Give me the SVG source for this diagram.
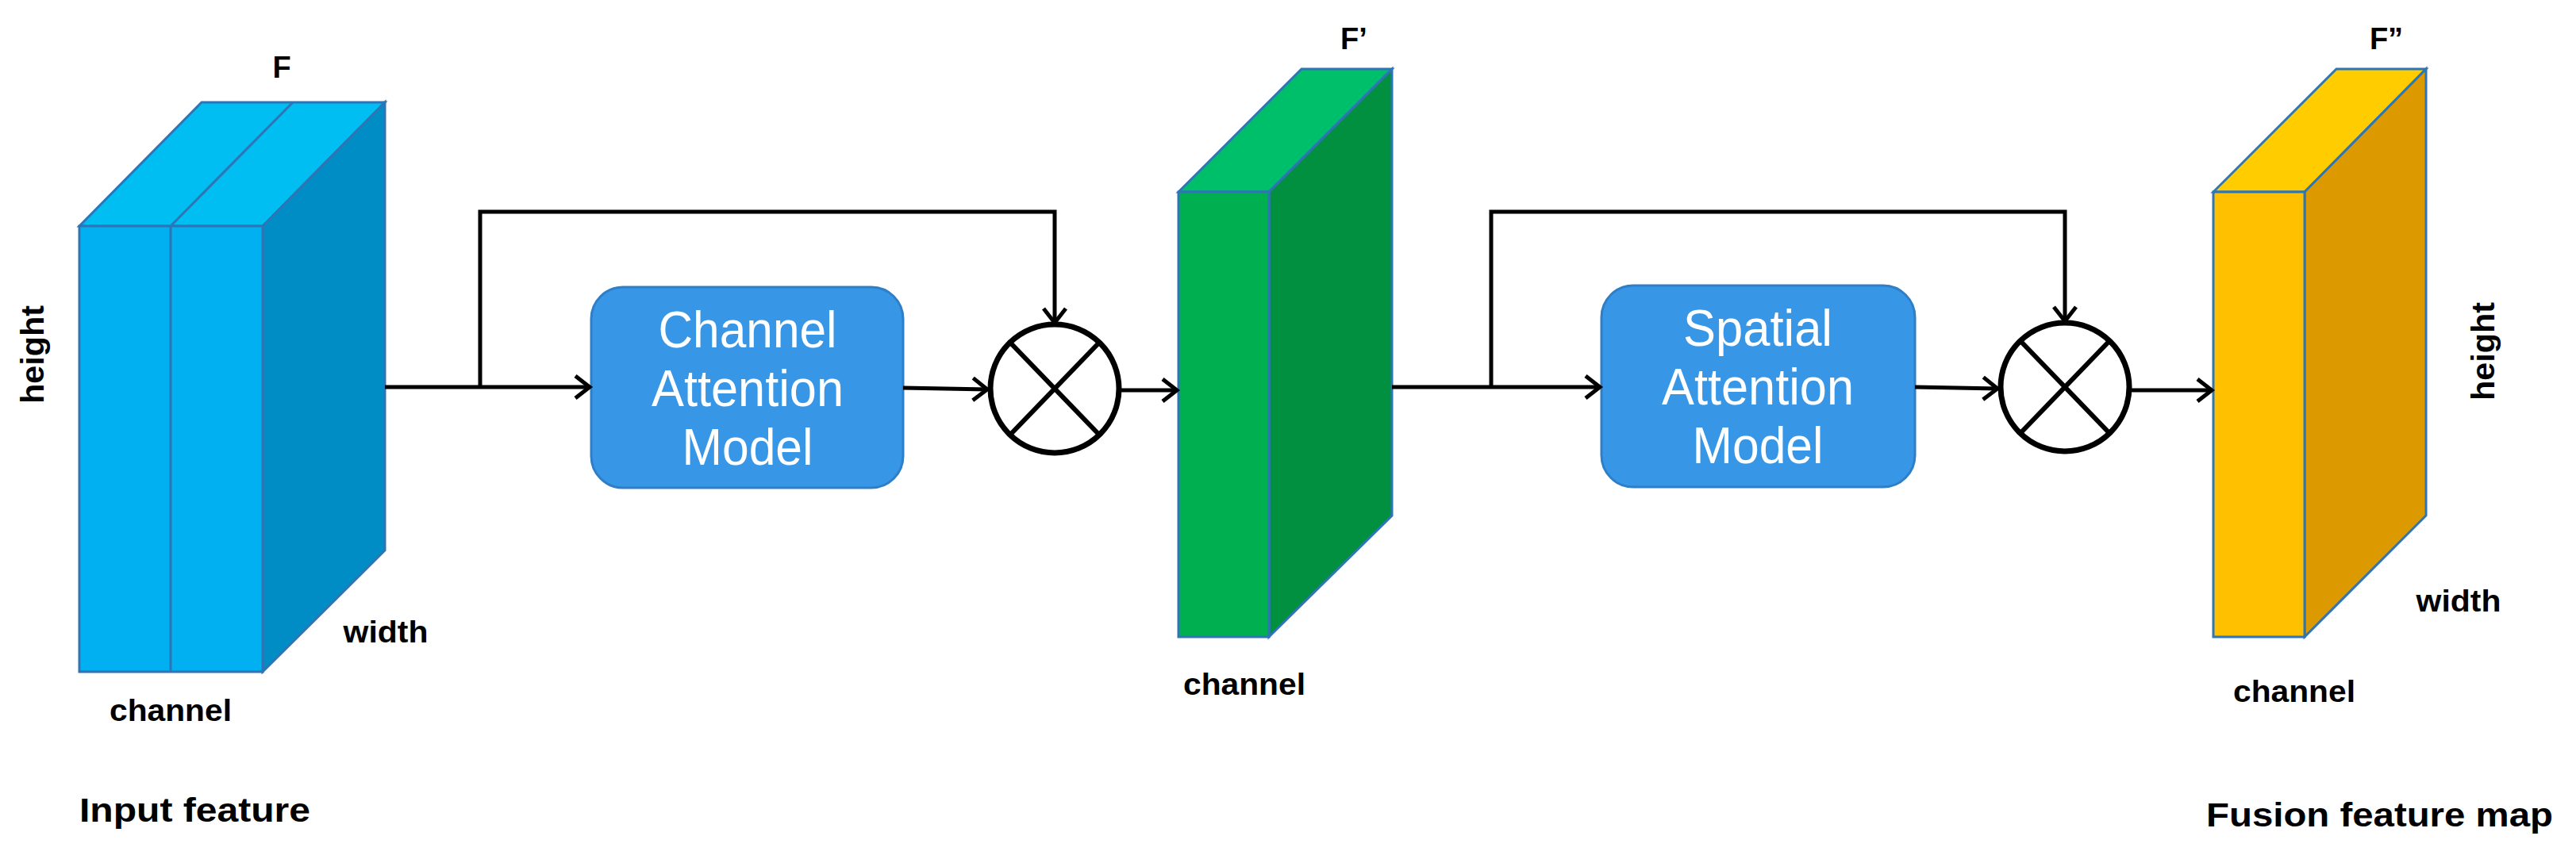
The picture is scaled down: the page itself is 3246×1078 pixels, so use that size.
<svg xmlns="http://www.w3.org/2000/svg" width="3246" height="1078" viewBox="0 0 3246 1078">
<style>
.lbl{font-family:"Liberation Sans",Arial,sans-serif;font-weight:bold;fill:#000}
.box{fill:#3896e6;stroke:#2f7ec8;stroke-width:3}
.bt{font-family:"Liberation Sans",Arial,sans-serif;fill:#fff;font-size:64px;text-anchor:middle}
.edge{stroke:#2e75b6;stroke-width:3}
.ln{fill:none;stroke:#000;stroke-width:5}
</style>
<defs>
<marker id="ah" markerWidth="30" markerHeight="32" refX="24" refY="16" orient="auto" markerUnits="userSpaceOnUse" viewBox="0 0 30 32">
<path d="M6,2 L24,16 L6,30" fill="none" stroke="#000" stroke-width="5"/>
</marker>
</defs>
<rect width="3246" height="1078" fill="#fff"/>
<g id="input-cube">
<polygon class="edge" points="100,285 254,129 485,129 331,285" fill="#00bdf2"/>
<polygon class="edge" points="331,285 485,129 485,694 331,847" fill="#008cc4"/>
<rect class="edge" x="100" y="285" width="231" height="562" fill="#00b0f0"/>
<line class="edge" x1="215" y1="285" x2="215" y2="847"/>
<line class="edge" x1="215" y1="285" x2="369" y2="129"/>
<text class="lbl" x="355" y="98" font-size="38" text-anchor="middle">F</text>
<text class="lbl" font-size="40" text-anchor="middle" transform="translate(55,447) rotate(-90)" textLength="124" lengthAdjust="spacingAndGlyphs">height</text>
<text class="lbl" x="486" y="810" font-size="38" text-anchor="middle" textLength="107" lengthAdjust="spacingAndGlyphs">width</text>
<text class="lbl" x="215" y="909" font-size="38" text-anchor="middle" textLength="154" lengthAdjust="spacingAndGlyphs">channel</text>
<text class="lbl" x="100" y="1036" font-size="42" textLength="291" lengthAdjust="spacingAndGlyphs">Input feature</text>
</g>
<g id="channel-attention">
<rect class="box" x="745" y="362" width="393" height="253" rx="40"/>
<text class="bt" x="942" y="438" textLength="225" lengthAdjust="spacingAndGlyphs">Channel</text>
<text class="bt" x="942" y="512" textLength="242" lengthAdjust="spacingAndGlyphs">Attention</text>
<text class="bt" x="942" y="586" textLength="165" lengthAdjust="spacingAndGlyphs">Model</text>
</g>
<g id="mult1">
<circle cx="1329" cy="490" r="81" fill="#fff" stroke="#000" stroke-width="7"/>
<line x1="1274" y1="433" x2="1384" y2="547" stroke="#000" stroke-width="6"/>
<line x1="1384" y1="433" x2="1274" y2="547" stroke="#000" stroke-width="6"/>
</g>
<g id="fprime-cube">
<polygon class="edge" points="1485,242 1640,87 1754,87 1599,242" fill="#00bf6a"/>
<polygon class="edge" points="1599,242 1754,87 1754,650 1599,803" fill="#009040"/>
<rect class="edge" x="1485" y="242" width="114" height="561" fill="#00b050"/>
<text class="lbl" x="1706" y="62" font-size="38" text-anchor="middle">F’</text>
<text class="lbl" x="1568" y="876" font-size="38" text-anchor="middle" textLength="154" lengthAdjust="spacingAndGlyphs">channel</text>
</g>
<g id="spatial-attention">
<rect class="box" x="2018" y="360" width="395" height="254" rx="40"/>
<text class="bt" x="2215" y="436" textLength="188" lengthAdjust="spacingAndGlyphs">Spatial</text>
<text class="bt" x="2215" y="510" textLength="242" lengthAdjust="spacingAndGlyphs">Attention</text>
<text class="bt" x="2215" y="584" textLength="165" lengthAdjust="spacingAndGlyphs">Model</text>
</g>
<g id="mult2">
<circle cx="2602" cy="488" r="81" fill="#fff" stroke="#000" stroke-width="7"/>
<line x1="2547" y1="431" x2="2657" y2="545" stroke="#000" stroke-width="6"/>
<line x1="2657" y1="431" x2="2547" y2="545" stroke="#000" stroke-width="6"/>
</g>
<g id="output-cube">
<polygon class="edge" points="2789,242 2944,87 3057,87 2904,242" fill="#ffcc00"/>
<polygon class="edge" points="2904,242 3057,87 3057,650 2904,803" fill="#dc9a00"/>
<rect class="edge" x="2789" y="242" width="115" height="561" fill="#ffc000"/>
<text class="lbl" x="3007" y="62" font-size="38" text-anchor="middle">F”</text>
<text class="lbl" font-size="40" text-anchor="middle" transform="translate(3143,443) rotate(-90)" textLength="124" lengthAdjust="spacingAndGlyphs">height</text>
<text class="lbl" x="3098" y="771" font-size="38" text-anchor="middle" textLength="107" lengthAdjust="spacingAndGlyphs">width</text>
<text class="lbl" x="2891" y="885" font-size="38" text-anchor="middle" textLength="154" lengthAdjust="spacingAndGlyphs">channel</text>
<text class="lbl" x="2780" y="1042" font-size="42" textLength="437" lengthAdjust="spacingAndGlyphs">Fusion feature map</text>
</g>
<g id="connectors">
<line class="ln" x1="485" y1="488" x2="743" y2="488" marker-end="url(#ah)"/>
<polyline class="ln" points="605,488 605,267 1329,267 1329,407" marker-end="url(#ah)"/>
<line class="ln" x1="1138" y1="489" x2="1244" y2="491" marker-end="url(#ah)"/>
<line class="ln" x1="1410" y1="492" x2="1483" y2="492" marker-end="url(#ah)"/>
<line class="ln" x1="1754" y1="488" x2="2016" y2="488" marker-end="url(#ah)"/>
<polyline class="ln" points="1879,488 1879,267 2602,267 2602,405" marker-end="url(#ah)"/>
<line class="ln" x1="2413" y1="488" x2="2517" y2="490" marker-end="url(#ah)"/>
<line class="ln" x1="2683" y1="492" x2="2787" y2="492" marker-end="url(#ah)"/>
</g>
</svg>
